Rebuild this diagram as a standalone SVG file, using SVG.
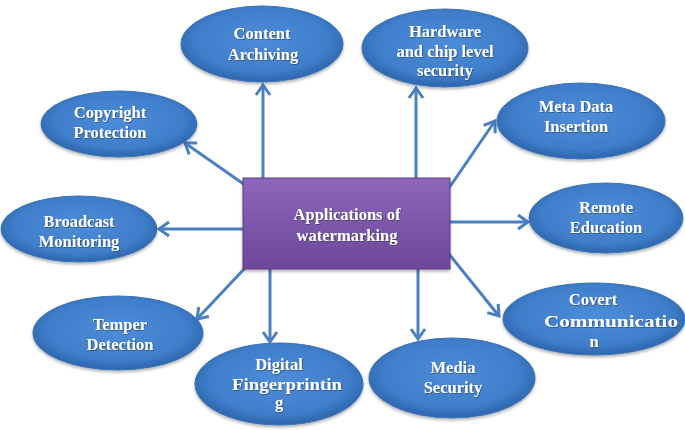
<svg xmlns="http://www.w3.org/2000/svg" width="685" height="430" viewBox="0 0 685 430">
<defs>
<radialGradient id="blue" cx="50%" cy="45%" r="55%">
<stop offset="0" stop-color="#4d8cd8"/>
<stop offset="0.75" stop-color="#3f7ecb"/>
<stop offset="1" stop-color="#2d65ab"/>
</radialGradient>
<linearGradient id="purple" x1="0" y1="0" x2="0" y2="1">
<stop offset="0" stop-color="#8c67bb"/>
<stop offset="1" stop-color="#6c4799"/>
</linearGradient>
<filter id="sh" x="-10%" y="-10%" width="120%" height="130%">
<feDropShadow dx="0" dy="2" stdDeviation="1.5" flood-color="#000" flood-opacity="0.3"/>
</filter>
<filter id="ts" x="-5%" y="-20%" width="110%" height="140%">
<feDropShadow dx="0.8" dy="0.8" stdDeviation="0.4" flood-color="#1a2a40" flood-opacity="0.6"/>
</filter>
<marker id="arr" markerUnits="userSpaceOnUse" markerWidth="18" markerHeight="18" viewBox="0 0 18 18" refX="14" refY="9" orient="auto">
<path d="M4,2 L14,9 L4,16" fill="none" stroke="#4a7fc0" stroke-width="3" stroke-linejoin="miter"/>
</marker>
</defs>
<style>
.conn{stroke:#4a7fc0;stroke-width:3;fill:none;marker-end:url(#arr)}
.ell{fill:url(#blue);stroke:#3a72b8;stroke-width:1;filter:url(#sh)}
.lbl{font-family:"Liberation Serif","Times New Roman",serif;font-weight:bold;font-size:16.5px;fill:#ffffff;text-anchor:middle;filter:url(#ts)}
</style>
<g id="connectors">
<path class="conn" d="M263,180 L263,85"/>
<path class="conn" d="M416,180 L416,88"/>
<path class="conn" d="M449,188 L495,121"/>
<path class="conn" d="M449,222 L528,222"/>
<path class="conn" d="M449,254 L499,316"/>
<path class="conn" d="M418,268 L418,339"/>
<path class="conn" d="M270,268 L270,342"/>
<path class="conn" d="M246,267 L197,319"/>
<path class="conn" d="M245,229 L159,229"/>
<path class="conn" d="M245,185 L185,143"/>
</g>
<g id="center">
<rect x="243" y="178" width="207" height="91" fill="url(#purple)" stroke="#5b3c85" stroke-width="1" filter="url(#sh)"/>
<text class="lbl" x="347" y="220">Applications of</text>
<text class="lbl" x="347" y="241">watermarking</text>
</g>
<g id="content-archiving">
<ellipse class="ell" cx="262" cy="44" rx="81" ry="38"/>
<text class="lbl" x="262" y="39">Content</text>
<text class="lbl" x="263" y="60">Archiving</text>
</g>
<g id="hardware">
<ellipse class="ell" cx="445" cy="48" rx="83" ry="39"/>
<text class="lbl" x="445" y="37">Hardware</text>
<text class="lbl" x="445" y="57">and chip level</text>
<text class="lbl" x="445" y="76">security</text>
</g>
<g id="meta-data">
<ellipse class="ell" cx="581" cy="121" rx="84" ry="38"/>
<text class="lbl" x="576" y="112">Meta Data</text>
<text class="lbl" x="576" y="132">Insertion</text>
</g>
<g id="remote-education">
<ellipse class="ell" cx="606" cy="218" rx="77" ry="35"/>
<text class="lbl" x="606" y="213">Remote</text>
<text class="lbl" x="606" y="233">Education</text>
</g>
<g id="covert">
<ellipse class="ell" cx="594" cy="319" rx="91" ry="36"/>
<text class="lbl" x="593" y="305">Covert</text>
<text class="lbl" x="611" y="327" textLength="134" lengthAdjust="spacingAndGlyphs">Communicatio</text>
<text class="lbl" x="594" y="347">n</text>
</g>
<g id="media-security">
<ellipse class="ell" cx="452" cy="378" rx="83" ry="40"/>
<text class="lbl" x="453" y="373">Media</text>
<text class="lbl" x="453" y="393">Security</text>
</g>
<g id="digital-fingerprinting">
<ellipse class="ell" cx="279" cy="384" rx="84" ry="41"/>
<text class="lbl" x="279" y="370">Digital</text>
<text class="lbl" x="287" y="390" textLength="110" lengthAdjust="spacingAndGlyphs">Fingerprintin</text>
<text class="lbl" x="279" y="408">g</text>
</g>
<g id="temper-detection">
<ellipse class="ell" cx="118" cy="333" rx="85" ry="37"/>
<text class="lbl" x="120" y="330">Temper</text>
<text class="lbl" x="120" y="350">Detection</text>
</g>
<g id="broadcast-monitoring">
<ellipse class="ell" cx="79" cy="229" rx="78" ry="33"/>
<text class="lbl" x="79" y="227">Broadcast</text>
<text class="lbl" x="79" y="247">Monitoring</text>
</g>
<g id="copyright-protection">
<ellipse class="ell" cx="119" cy="124" rx="78" ry="33"/>
<text class="lbl" x="110" y="118">Copyright</text>
<text class="lbl" x="110" y="138">Protection</text>
</g>
</svg>
